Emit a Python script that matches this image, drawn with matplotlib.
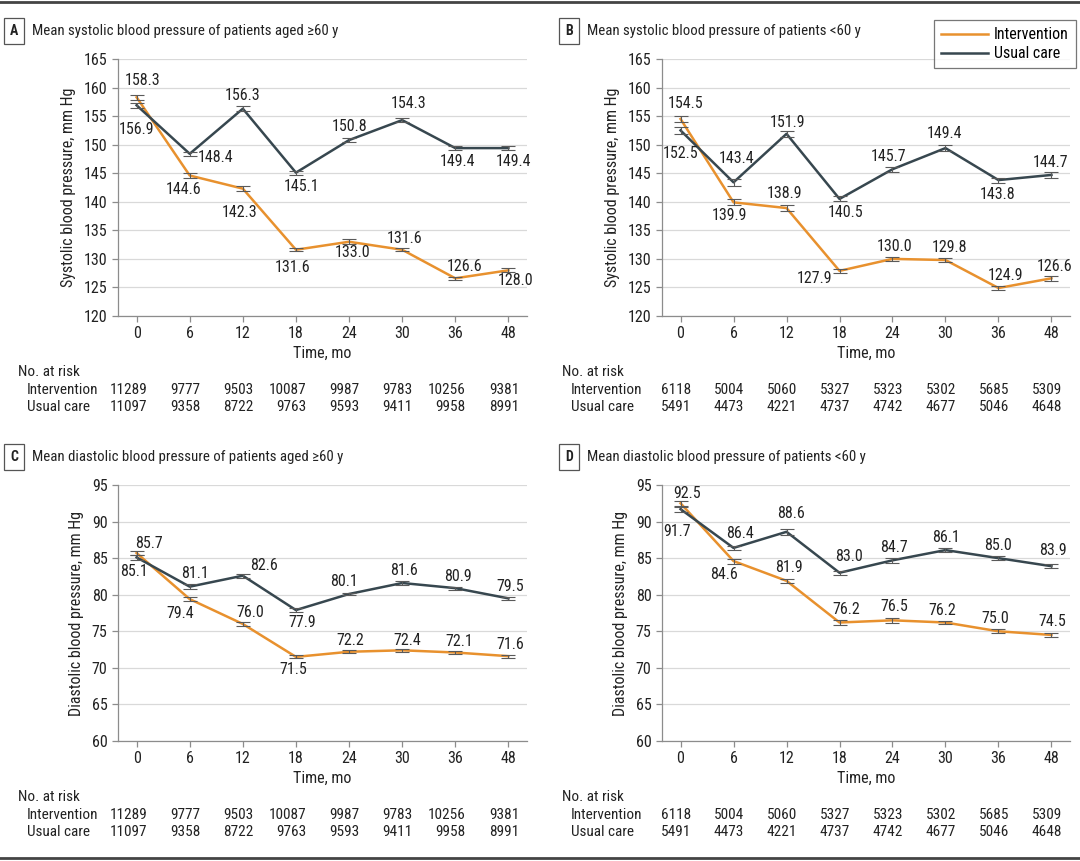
import numpy as np
import matplotlib
matplotlib.use('Agg')
from matplotlib import pyplot as plt
import matplotlib.transforms as mtransforms

plt.rcParams['font.family'] = ['Roboto Condensed', 'Liberation Sans Narrow', 'Roboto', 'DejaVu Sans']

# --- data ---
months = ['0', '6', '12', '18', '24', '30', '36', '48']

sbp_old_int = [158.3, 144.6, 142.3, 131.6, 133.0, 131.6, 126.6, 128.0]
sbp_old_uc = [156.9, 148.4, 156.3, 145.1, 150.8, 154.3, 149.4, 149.4]
sbp_young_int = [154.5, 139.9, 138.9, 127.9, 130.0, 129.8, 124.9, 126.6]
sbp_young_uc = [152.5, 143.4, 151.9, 140.5, 145.7, 149.4, 143.8, 144.7]
dbp_old_int = [85.7, 79.4, 76.0, 71.5, 72.2, 72.4, 72.1, 71.6]
dbp_old_uc = [85.1, 81.1, 82.6, 77.9, 80.1, 81.6, 80.9, 79.5]
dbp_young_int = [92.5, 84.6, 81.9, 76.2, 76.5, 76.2, 75.0, 74.5]
dbp_young_uc = [91.7, 86.4, 88.6, 83.0, 84.7, 86.1, 85.0, 83.9]

# error half-widths (estimated)
sbp_old_int_err = [0.45, 0.4, 0.4, 0.3, 0.4, 0.3, 0.3, 0.35]
sbp_old_uc_err = [0.4, 0.4, 0.45, 0.35, 0.35, 0.4, 0.35, 0.35]
sbp_young_int_err = [0.5, 0.5, 0.45, 0.4, 0.4, 0.4, 0.35, 0.4]
sbp_young_uc_err = [0.55, 0.55, 0.55, 0.45, 0.45, 0.5, 0.45, 0.5]
dbp_old_int_err = [0.3, 0.3, 0.25, 0.2, 0.2, 0.2, 0.2, 0.2]
dbp_old_uc_err = [0.3, 0.3, 0.25, 0.25, 0.2, 0.25, 0.2, 0.25]
dbp_young_int_err = [0.35, 0.35, 0.3, 0.3, 0.3, 0.25, 0.25, 0.25]
dbp_young_uc_err = [0.35, 0.3, 0.4, 0.3, 0.3, 0.3, 0.3, 0.3]

risk_old_int = ['11289', '9777', '9503', '10087', '9987', '9783', '10256', '9381']
risk_old_uc = ['11097', '9358', '8722', '9763', '9593', '9411', '9958', '8991']
risk_young_int = ['6118', '5004', '5060', '5327', '5323', '5302', '5685', '5309']
risk_young_uc = ['5491', '4473', '4221', '4737', '4742', '4677', '5046', '4648']

# label offsets in pixels (dx, dy down), per point
off_A_int = [(6, -17), (-6, 14), (-3, 24), (-3, 18), (4, 11), (2, -11), (9, -12), (7, 10)]
off_A_uc = [(0, 24), (26, 4), (0, -13), (6, 14), (1, -14), (6, -17), (2, 13), (5, 13)]
off_B_int = [(5, -15), (-4, 13), (-2, -15), (-25, 8), (2, -12), (4, -13), (7, -13), (3, -12)]
off_B_uc = [(0, 23), (3, -24), (1, -11), (6, 14), (-4, -13), (-1, -15), (-1, 14), (-1, -12)]
off_C_int = [(12, -10), (-10, 14), (7, -11), (-3, 13), (1, -11), (5, -10), (4, -11), (2, -12)]
off_C_uc = [(-3, 14), (5, -13), (21, -10), (6, 12), (-5, -12), (2, -13), (3, -12), (2, -12)]
off_D_int = [(7, -10), (-10, 13), (2, -13), (7, -13), (2, -14), (-3, -12), (-3, -13), (1, -13)]
off_D_uc = [(-3, 22), (6, -14), (4, -18), (9, -16), (2, -13), (1, -13), (0, -13), (1, -16)]

c_int = '#E8912E'
c_uc = '#37474F'
c_err = '#5a5a5a'
c_txt = '#222222'
W, H = 1080, 861

fig = plt.figure(figsize=(W / 100, H / 100), dpi=100)


def px_axes(left, top, right, bottom):
    return fig.add_axes([left / W, 1 - bottom / H, (right - left) / W, (bottom - top) / H])


def panel(ax, y_int, e_int, y_uc, e_uc, off_int, off_uc, ylim, ystep, ylabel,
          letter, title, r_int, r_uc, title_x, table_x):
    x = np.arange(len(months))
    ax.plot(x, y_int, color=c_int, lw=1.8, zorder=3, label='Intervention')
    ax.plot(x, y_uc, color=c_uc, lw=1.8, zorder=3, label='Usual care')
    ax.errorbar(x, y_int, yerr=e_int, fmt='none', ecolor=c_err, elinewidth=0.8, capsize=5, capthick=0.8, zorder=4)
    ax.errorbar(x, y_uc, yerr=e_uc, fmt='none', ecolor=c_err, elinewidth=0.8, capsize=5, capthick=0.8, zorder=4)
    for xi, v, (dx, dy) in zip(x, y_int, off_int):
        ax.annotate('%.1f' % v, (xi, v), xytext=(dx, -dy), textcoords='offset pixels',
                    ha='center', va='center', fontsize=11.5, color=c_txt)
    for xi, v, (dx, dy) in zip(x, y_uc, off_uc):
        ax.annotate('%.1f' % v, (xi, v), xytext=(dx, -dy), textcoords='offset pixels',
                    ha='center', va='center', fontsize=11.5, color=c_txt)
    ax.set_xlim(-0.35, 7.35)
    ax.set_ylim(*ylim)
    ax.set_yticks(np.arange(ylim[0], ylim[1] + 1, ystep))
    ax.set_xticks(x)
    ax.set_xticklabels(months)
    ax.yaxis.grid(True, color='#d9d9d9', lw=0.9)
    ax.set_axisbelow(True)
    for s in ['top', 'right']:
        ax.spines[s].set_visible(False)
    for s in ['left', 'bottom']:
        ax.spines[s].set_color('#8c8c8c')
        ax.spines[s].set_linewidth(0.9)
    ax.tick_params(colors='#8c8c8c', labelcolor=c_txt, labelsize=11.5, length=4, width=0.9)
    ax.set_ylabel(ylabel, fontsize=11.5, color=c_txt, labelpad=6)
    ax.set_xlabel('Time, mo', fontsize=11.5, color=c_txt, labelpad=3)

    # title with boxed letter
    bb = ax.get_position()
    ty = bb.y1 + 28 / H
    fig.text(title_x / W, ty, letter, fontsize=10, fontweight='bold', ha='center', va='center',
             color=c_txt, bbox=dict(boxstyle='square,pad=0.45', fc='white', ec='#555555', lw=0.9))
    fig.text((title_x + 18) / W, ty, title, fontsize=10.7, ha='left', va='center', color=c_txt)

    # risk table
    tr = mtransforms.blended_transform_factory(ax.transData, fig.transFigure)
    y0 = bb.y0 - 56 / H
    fig.text(table_x / W, y0, 'No. at risk', fontsize=11, ha='left', va='center', color=c_txt)
    fig.text((table_x + 9) / W, y0 - 18 / H, 'Intervention', fontsize=11, ha='left', va='center', color=c_txt)
    fig.text((table_x + 9) / W, y0 - 35 / H, 'Usual care', fontsize=11, ha='left', va='center', color=c_txt)
    for xi, a, b in zip(x, r_int, r_uc):
        ax.text(xi + 0.2, y0 - 18 / H, a, transform=tr, fontsize=11, ha='right', va='center', color=c_txt)
        ax.text(xi + 0.2, y0 - 35 / H, b, transform=tr, fontsize=11, ha='right', va='center', color=c_txt)


axA = px_axes(118, 59, 527, 316)
axB = px_axes(662, 59, 1070, 316)
axC = px_axes(118, 485, 527, 741)
axD = px_axes(662, 485, 1070, 741)

panel(axA, sbp_old_int, sbp_old_int_err, sbp_old_uc, sbp_old_uc_err, off_A_int, off_A_uc,
      (120, 165), 5, 'Systolic blood pressure, mm Hg', 'A',
      'Mean systolic blood pressure of patients aged ≥60 y', risk_old_int, risk_old_uc, 14, 18)
panel(axB, sbp_young_int, sbp_young_int_err, sbp_young_uc, sbp_young_uc_err, off_B_int, off_B_uc,
      (120, 165), 5, 'Systolic blood pressure, mm Hg', 'B',
      'Mean systolic blood pressure of patients <60 y', risk_young_int, risk_young_uc, 569, 562)
panel(axC, dbp_old_int, dbp_old_int_err, dbp_old_uc, dbp_old_uc_err, off_C_int, off_C_uc,
      (60, 95), 5, 'Diastolic blood pressure, mm Hg', 'C',
      'Mean diastolic blood pressure of patients aged ≥60 y', risk_old_int, risk_old_uc, 14, 18)
panel(axD, dbp_young_int, dbp_young_int_err, dbp_young_uc, dbp_young_uc_err, off_D_int, off_D_uc,
      (60, 95), 5, 'Diastolic blood pressure, mm Hg', 'D',
      'Mean diastolic blood pressure of patients <60 y', risk_young_int, risk_young_uc, 569, 562)

# legend
leg = fig.legend(handles=axB.get_lines()[:2], loc='upper right', bbox_to_anchor=(1076 / W, 1 - 20 / H),
                 borderaxespad=0, fontsize=11.5, frameon=True, fancybox=False, edgecolor='#555555',
                 handlelength=2.9, borderpad=0.45, labelspacing=0.25, handletextpad=0.4)
leg.get_frame().set_linewidth(0.9)

# top and bottom rules
fig.add_artist(plt.Line2D([0, 1], [1 - 2 / H, 1 - 2 / H], color='#444444', lw=2))
fig.add_artist(plt.Line2D([0, 1], [1 - 858 / H, 1 - 858 / H], color='#444444', lw=2))

fig.savefig('out.png', dpi=100)
